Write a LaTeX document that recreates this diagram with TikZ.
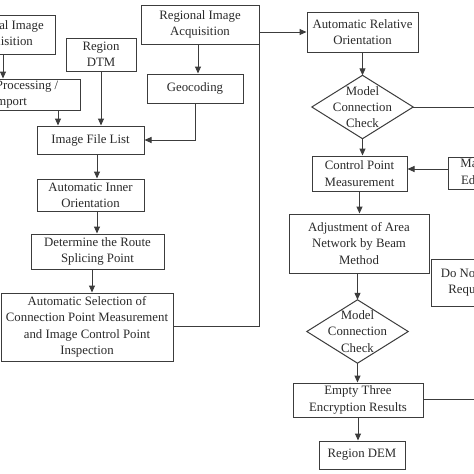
\documentclass[tikz,border=0pt]{standalone}
\usepackage{fontspec}
\setmainfont{Liberation Serif}
\usetikzlibrary{arrows.meta}
\definecolor{lc}{HTML}{3C3C3C}
\definecolor{tc}{HTML}{2A2A2A}
\tikzset{
  box/.style={draw=lc, line width=1pt, inner sep=0pt, align=center, text=tc},
  dtext/.style={inner sep=0pt, align=center, text=tc},
  ln/.style={draw=lc, line width=1pt},
  arr/.style={draw=lc, line width=1pt, -{Triangle[length=7pt,width=6pt]}}
}
\begin{document}
\begin{tikzpicture}[x=1pt,y=-1pt,font=\fontsize{12.8}{16.3}\selectfont]
\useasboundingbox (0,0) rectangle (474,474);
\fill[white] (0,0) rectangle (474,474);
\clip (0,0) rectangle (474,474);
% left column
\node[box, minimum width=104pt, minimum height=39pt] (acqL) at (3,34.5) {Regional Image\\Acquisition};
\node[box, minimum width=141pt, minimum height=31pt] (proc) at (9.5,94.5) {Image Processing /\\Import};
\node[box, minimum width=70pt, minimum height=33pt] (dtm) at (101,54.5) {Region\\DTM};
\node[box, minimum width=118pt, minimum height=39pt] (acqR) at (200,24.5) {Regional Image\\Acquisition};
\node[box, minimum width=96pt, minimum height=29pt] (geo) at (195,88.5) {Geocoding};
\node[box, minimum width=107pt, minimum height=28pt] (ifl) at (90.5,140) {Image File List};
\node[box, minimum width=107pt, minimum height=32pt] (aio) at (90.5,195) {Automatic Inner\\Orientation};
\node[box, minimum width=133pt, minimum height=35pt] (drs) at (97.5,251.5) {Determine the Route\\Splicing Point};
\node[box, minimum width=172pt, minimum height=68pt] (asel) at (87,327) {Automatic Selection of\\Connection Point Measurement\\and Image Control Point\\Inspection};
% right column
\node[box, minimum width=111pt, minimum height=40pt] (aro) at (362.5,32) {Automatic Relative\\Orientation};
\node[dtext, minimum width=101pt, minimum height=63pt] (mcc1) at (362.5,107) {Model\\Connection\\Check};
\draw[ln] (mcc1.north) -- (mcc1.east) -- (mcc1.south) -- (mcc1.west) -- cycle;
\node[box, minimum width=95pt, minimum height=35pt] (cpm) at (359.5,173.5) {Control Point\\Measurement};
\node[box, minimum width=64pt, minimum height=32pt] (man) at (480,173) {Manual\\Editing};
\node[box, minimum width=140pt, minimum height=59pt] (adj) at (359,243.5) {Adjustment of Area\\Network by Beam\\Method};
\node[box, minimum width=106pt, minimum height=47pt] (dnm) at (484,282.5) {Do Not Meet the\\Requirements};
\node[dtext, minimum width=101pt, minimum height=63pt] (mcc2) at (357.5,331.5) {Model\\Connection\\Check};
\draw[ln] (mcc2.north) -- (mcc2.east) -- (mcc2.south) -- (mcc2.west) -- cycle;
\node[box, minimum width=130pt, minimum height=34pt] (etr) at (358,400) {Empty Three\\Encryption Results};
\node[box, minimum width=86pt, minimum height=28pt] (dem) at (362,455) {Region DEM};
% helper coordinates
\coordinate (c1) at (58,0);
\coordinate (c2) at (97,0);
\coordinate (c3) at (92,0);
\coordinate (jx) at (259,0);
\coordinate (r1) at (480,107);
\coordinate (r2) at (480,0);
\coordinate (c4) at (198,0);
% connectors
\draw[arr] (acqL.south) -- (acqL.south |- proc.north);
\draw[arr] (c1 |- proc.south) -- (c1 |- ifl.north);
\draw[arr] (dtm.south) -- (dtm.south |- ifl.north);
\draw[arr] (c4 |- acqR.south) -- (c4 |- geo.north);
\draw[arr] (geo.south) |- (ifl.east);
\draw[arr] (c2 |- ifl.south) -- (c2 |- aio.north);
\draw[arr] (c2 |- aio.south) -- (c2 |- drs.north);
\draw[arr] (c3 |- drs.south) -- (c3 |- asel.north);
\draw[arr] ([yshift=1pt]asel.east) -| (jx |- aro.west) -- (aro.west);
\draw[arr] (aro.south) -- (mcc1.north);
\draw[arr] (mcc1.south) -- (mcc1.south |- cpm.north);
\draw[ln] (mcc1.east) -- (r1);
\draw[arr] ([yshift=4pt]man.west) -- ([yshift=4pt]man.west -| cpm.east);
\draw[arr] (cpm.south) -- (cpm.south |- adj.north);
\draw[arr] (mcc2.north |- adj.south) -- (mcc2.north);
\draw[arr] (mcc2.south) -- (mcc2.south |- etr.north);
\draw[ln] ([yshift=1pt]etr.east) -- ([yshift=1pt]etr.east -| r2);
\draw[arr] (etr.south) -- (etr.south |- dem.north);
\end{tikzpicture}
\end{document}
